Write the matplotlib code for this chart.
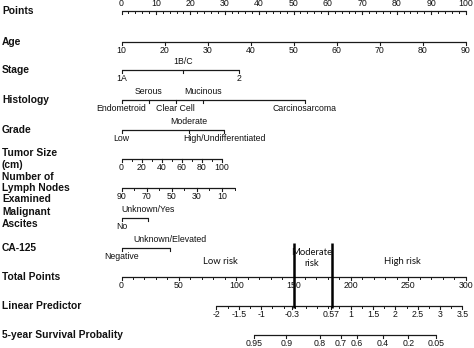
import matplotlib
matplotlib.use("Agg")
import matplotlib.pyplot as plt
import matplotlib.transforms as mtransforms
import numpy as np

# ---- nomogram data ---------------------------------------------------------
points_ticks = list(range(0, 101, 10))

age_ticks = [10, 20, 30, 40, 50, 60, 70, 80, 90]
age_range = (10, 90)            # age mapped onto 0..100 points
age_points_range = (0, 100)

stage_labels = ["1A", "1B/C", "2"]
stage_points = [0, 17.9, 34.2]
stage_side = ["below", "above", "below"]

histology_labels = ["Endometroid", "Serous", "Clear Cell", "Mucinous", "Carcinosarcoma"]
histology_points = [0, 8.0, 15.8, 23.7, 53.3]
histology_side = ["below", "above", "below", "above", "below"]

grade_labels = ["Low", "Moderate", "High/Undifferentiated"]
grade_points = [0, 19.6, 29.8]
grade_side = ["below", "above", "below"]

tumor_size_ticks = [0, 20, 40, 60, 80, 100]
tumor_size_range = (0, 100)
tumor_points_range = (0, 29.2)

lymph_ticks = [90, 70, 50, 30, 10]
lymph_range = (90, 0)
lymph_points_range = (0, 32.85)

ascites_labels = ["No", "Unknown/Yes"]
ascites_points = [0, 7.6]
ascites_side = ["below", "above"]

ca125_labels = ["Negative", "Unknown/Elevated"]
ca125_points = [0, 14.1]
ca125_side = ["below", "above"]

total_ticks = [0, 50, 100, 150, 200, 250, 300]

lp_ticks = [-2, -1.5, -1, -0.3, 0.57, 1, 1.5, 2, 2.5, 3, 3.5]
lp_tick_labels = ["-2", "-1.5", "-1", "-0.3", "0.57", "1", "1.5", "2", "2.5", "3", "3.5"]
lp_total_at_min = 82.8          # total points where linear predictor = -2
lp_total_per_unit = 39.0

survival_labels = ["0.95", "0.9", "0.8", "0.7", "0.6", "0.4", "0.2", "0.05"]
survival_lp = [-1.16, -0.44, 0.31, 0.78, 1.14, 1.72, 2.29, 2.91]

risk_cutoffs_total = [150, 150 + 0.87 * 39.0]   # -0.3 and 0.57 on the predictor
risk_labels = ["Low risk", "Moderate\nrisk", "High risk"]
risk_label_total = [86, 166, 245]

row_titles = ["Points", "Age", "Stage", "Histology", "Grade", "Tumor Size\n(cm)",
              "Number of\nLymph Nodes\nExamined", "Malignant\nAscites", "CA-125",
              "Total Points", "Linear Predictor", "5-year Survival Probality"]

# ---- layout ---------------------------------------------------------------
row_y = [11, 42, 70, 100, 130, 159, 188, 218, 248, 277, 306, 335]

FONT = "Liberation Sans"
LBL = 6.3
TTL = 7.4
LINE_C = "#1a1a1a"

fig = plt.figure(figsize=(4.74, 3.48), dpi=100)
ax = fig.add_axes([0, 0, 1, 1])
ax.set_xlim(-35.32, 102.47)
ax.set_ylim(348, 0)
ax.axis("off")


def linmap(v, v0, v1, p0, p1):
    v = np.asarray(v, dtype=float)
    return p0 + (v - v0) * (p1 - p0) / (v1 - v0)


def total_to_pts(t):
    return np.asarray(t, dtype=float) / 3.0


def lp_to_pts(lp):
    return total_to_pts(lp_total_at_min + (np.asarray(lp, dtype=float) + 2) * lp_total_per_unit)


def draw_scale(y, pos, labels, side="below", minor=None, span=None, tick=2.5):
    pos = np.asarray(pos, dtype=float)
    lo, hi = (pos.min(), pos.max()) if span is None else span
    ax.plot([lo, hi], [y, y], color=LINE_C, lw=0.9, solid_capstyle="butt")
    if minor is not None:
        for m in minor:
            ax.plot([m, m], [y, y + 1.6], color=LINE_C, lw=0.7)
    sides = side if isinstance(side, list) else [side] * len(pos)
    for p, lab, s in zip(pos, labels, sides):
        ax.plot([p, p], [y, y + tick], color=LINE_C, lw=0.8)
        ty = y - 8 if s == "above" else y + 8.5
        ax.text(p, ty, lab, ha="center", va="center", fontsize=LBL,
                family=FONT, color="#111111")


# row titles
trans = mtransforms.blended_transform_factory(ax.transAxes, ax.transData)
for title, y in zip(row_titles, row_y):
    ax.text(0.004, y, title, transform=trans, ha="left", va="center",
            fontsize=TTL, fontweight="bold", family=FONT, color="#111111",
            linespacing=1.15)

# Points
draw_scale(row_y[0], points_ticks, [str(v) for v in points_ticks], side="above",
           minor=np.arange(0, 101, 2))
# Age
draw_scale(row_y[1], linmap(age_ticks, *age_range, *age_points_range),
           [str(v) for v in age_ticks])
# Stage, histology, grade
draw_scale(row_y[2], stage_points, stage_labels, side=stage_side)
draw_scale(row_y[3], histology_points, histology_labels, side=histology_side)
draw_scale(row_y[4], grade_points, grade_labels, side=grade_side)
# Tumor size
draw_scale(row_y[5], linmap(tumor_size_ticks, *tumor_size_range, *tumor_points_range),
           [str(v) for v in tumor_size_ticks],
           minor=linmap(np.arange(0, 101, 10), *tumor_size_range, *tumor_points_range))
# Lymph nodes
draw_scale(row_y[6], linmap(lymph_ticks, *lymph_range, *lymph_points_range),
           [str(v) for v in lymph_ticks],
           minor=linmap(np.arange(0, 91, 10), *lymph_range, *lymph_points_range),
           span=(lymph_points_range[0], lymph_points_range[1]))
# Ascites, CA-125
draw_scale(row_y[7], ascites_points, ascites_labels, side=ascites_side)
draw_scale(row_y[8], ca125_points, ca125_labels, side=ca125_side)
# Total points
draw_scale(row_y[9], total_to_pts(total_ticks), [str(v) for v in total_ticks],
           minor=total_to_pts(np.arange(0, 301, 10)))
# Linear predictor
draw_scale(row_y[10], lp_to_pts(lp_ticks), lp_tick_labels,
           minor=lp_to_pts(np.arange(-2, 3.51, 0.25)))
# Survival probability
draw_scale(row_y[11], lp_to_pts(survival_lp), survival_labels)

# Risk group cut-offs
for t in risk_cutoffs_total:
    x = total_to_pts(t)
    ax.plot([x, x], [243, 307.5], color="black", lw=1.8, solid_capstyle="butt")
for lab, t, y in zip(risk_labels, risk_label_total, [262, 258, 261]):
    ax.text(total_to_pts(t), y, lab, ha="center", va="center", fontsize=6.8,
            family="Lato", color="#111111", linespacing=1.2)

fig.savefig("out.png", dpi=100)
